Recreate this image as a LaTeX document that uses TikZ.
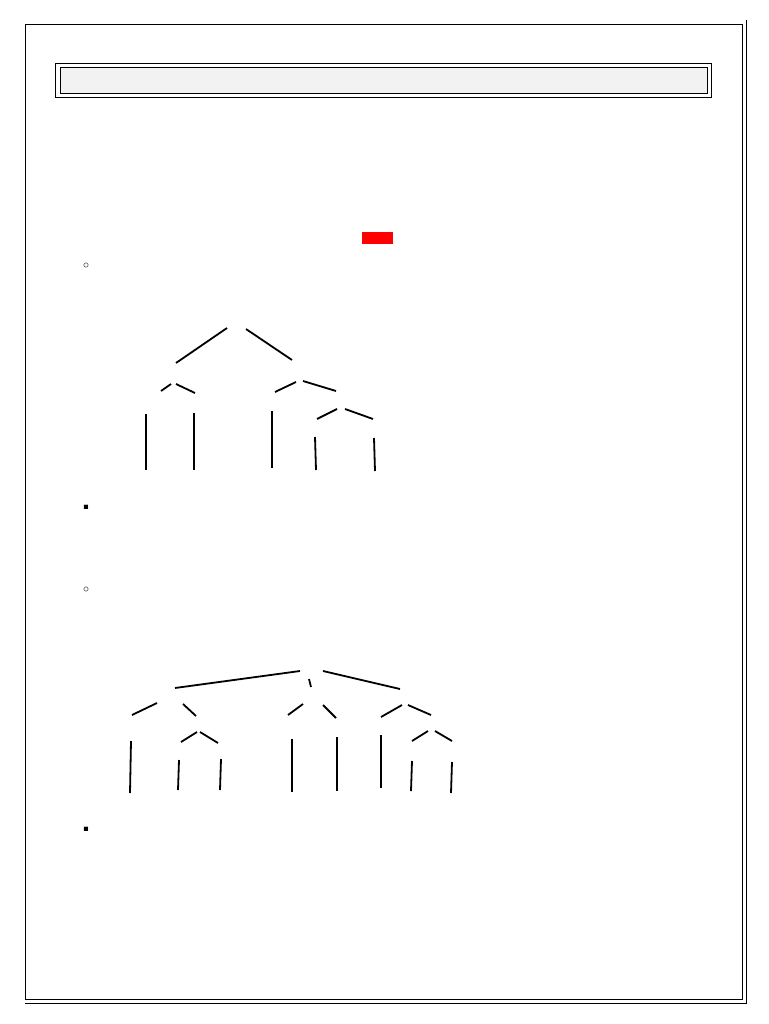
\documentclass[tikz,border=0pt]{standalone}
\usepackage{amssymb}
\begin{document}
\begin{tikzpicture}[x=1pt,y=-1pt,
  branch/.style={line width=1.8pt},
  frame/.style={line width=0.9pt}]
\useasboundingbox (0,0) rectangle (768,1024);

% page frame
\draw [frame] (25,24) rectangle (742,999);
\draw [frame] (746,20) -- (746,1003) -- (25,1003);

% title bar
\draw [frame] (55,63) rectangle (711,97);
\draw [frame,fill=black!5] (60,67) rectangle (707,93);

% red mark
\fill [red] (362,232) rectangle (393,244);

% bullets
\node (b1) at (86,266) {\large$\circ$};
\node (b2) at (86,507) {\tiny$\blacksquare$};
\node (b3) at (86,590) {\large$\circ$};
\node (b4) at (86,829) {\tiny$\blacksquare$};

% first tree
\draw [branch] (176,363) -- (227,328);
\draw [branch] (246,329) -- (292,360);
\draw [branch] (161,391) -- (171,384);
\draw [branch] (176,384) -- (195,393);
\draw [branch] (275,392) -- (296,382);
\draw [branch] (303,381) -- (336,391);
\draw [branch] (317,419) -- (337,409);
\draw [branch] (345,409) -- (373,419);
\draw [branch] (146,414) -- (146,470);
\draw [branch] (194,413) -- (194,470);
\draw [branch] (272,411) -- (272,468);
\draw [branch] (315,437) -- (316,470);
\draw [branch] (374,438) -- (375,471);

% second tree
\draw [branch] (175,688) -- (300,671);
\draw [branch] (309,679) -- (311,687);
\draw [branch] (323,671) -- (400,689);
\draw [branch] (132,715) -- (157,703);
\draw [branch] (183,704) -- (196,716);
\draw [branch] (288,715) -- (303,704);
\draw [branch] (323,705) -- (336,718);
\draw [branch] (381,717) -- (402,705);
\draw [branch] (408,705) -- (431,715);
\draw [branch] (181,742) -- (197,732);
\draw [branch] (200,732) -- (218,743);
\draw [branch] (412,741) -- (428,731);
\draw [branch] (435,731) -- (452,741);
\draw [branch] (131,741) -- (130,793);
\draw [branch] (179,760) -- (178,790);
\draw [branch] (221,759) -- (220,790);
\draw [branch] (292,739) -- (292,792);
\draw [branch] (337,737) -- (337,791);
\draw [branch] (381,735) -- (381,788);
\draw [branch] (412,761) -- (411,791);
\draw [branch] (452,762) -- (451,793);
\end{tikzpicture}
\end{document}
